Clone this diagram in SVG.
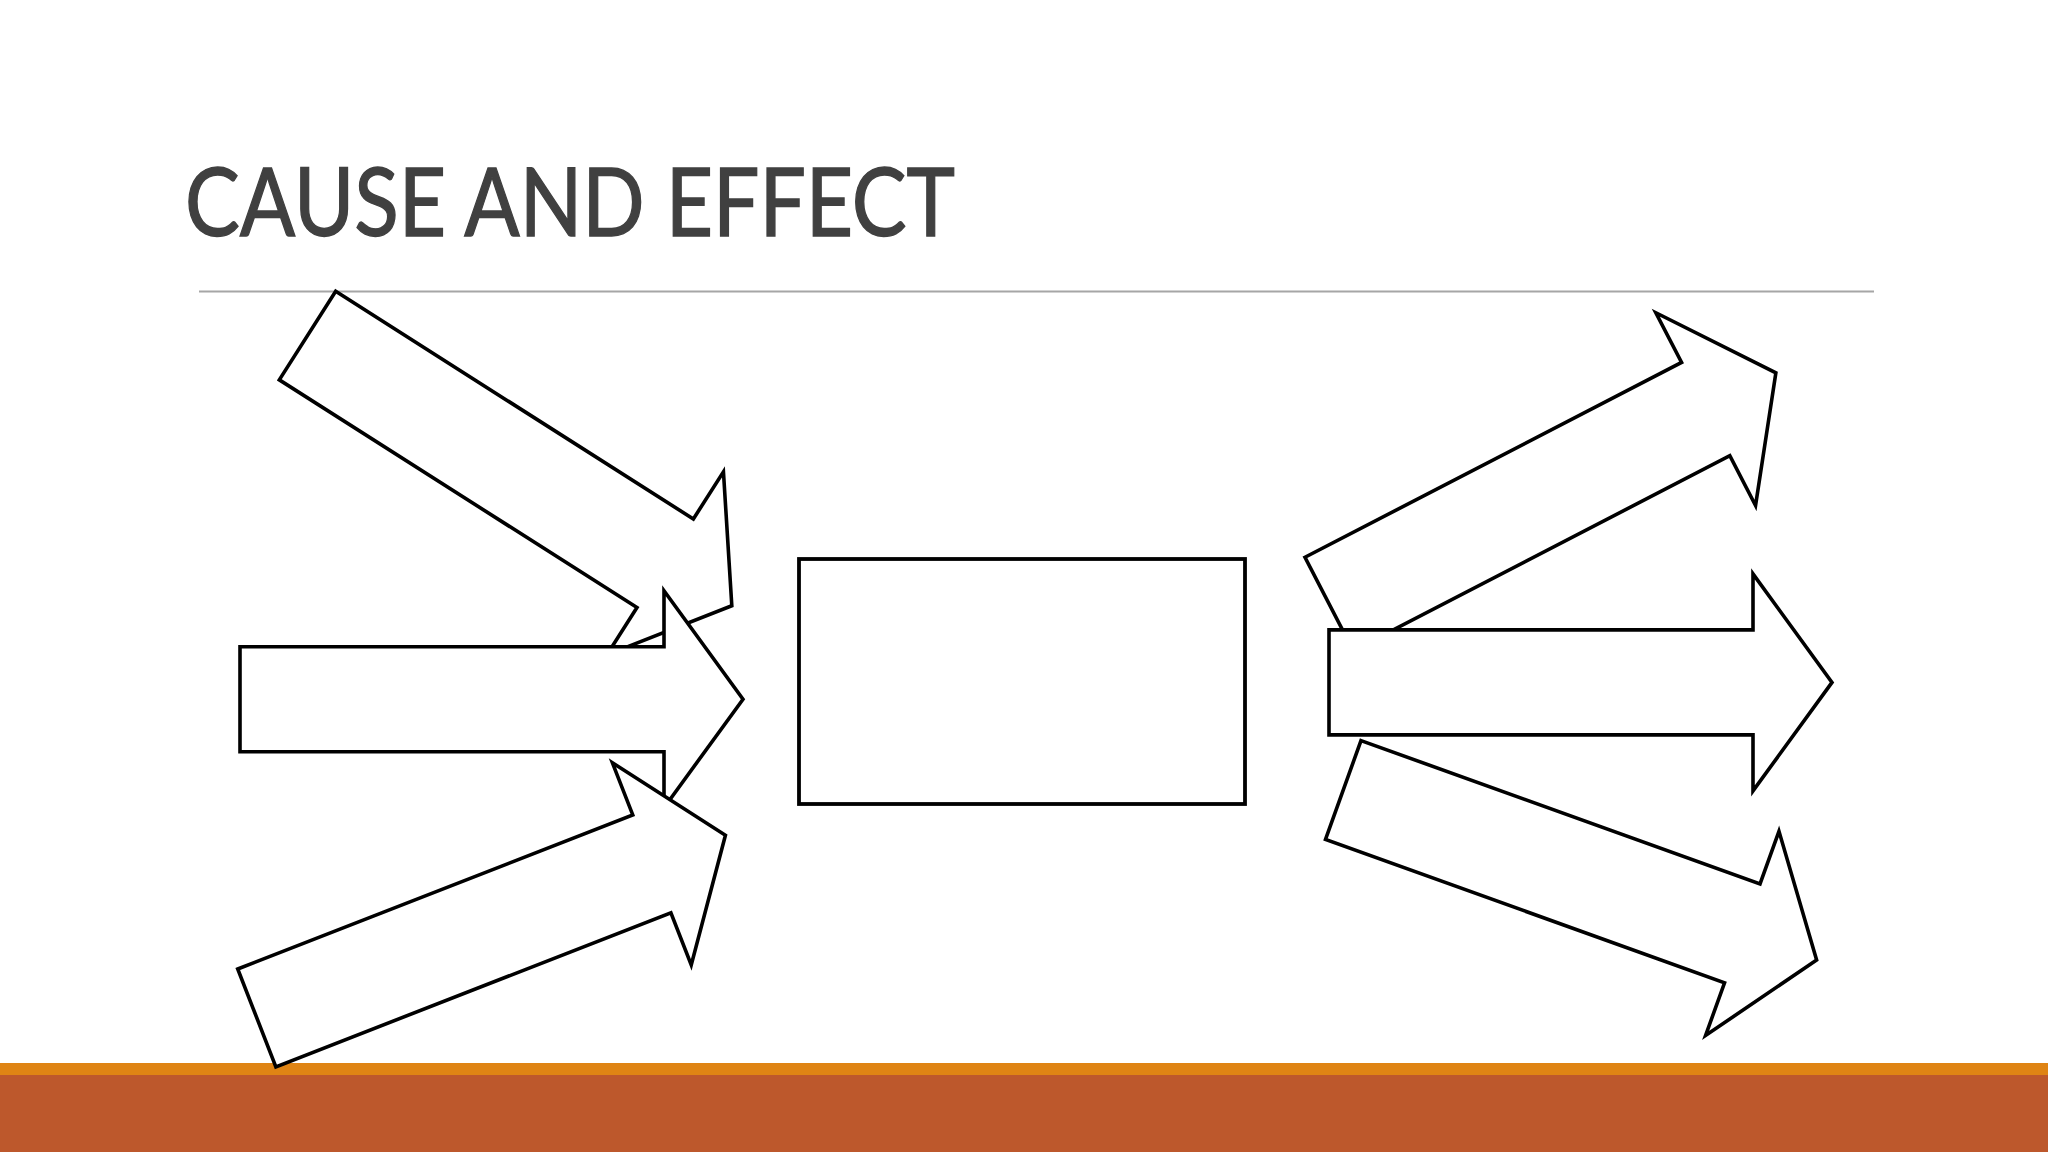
<svg xmlns="http://www.w3.org/2000/svg" xmlns:xlink="http://www.w3.org/1999/xlink" width="2048" height="1152" viewBox="0 0 2048 1152">
<style>
.bg{fill:#ffffff}
.title{font-family:Lato,"Open Sans","Liberation Sans",sans-serif;font-size:95px;fill:#404040;stroke:#404040;stroke-width:1.4}
.rule{stroke:#a6a6a6;stroke-width:2}
.arrow{fill:#ffffff;stroke:#000000;stroke-width:3.6;stroke-linejoin:miter;stroke-miterlimit:10}
.box{fill:#ffffff;stroke:#000000;stroke-width:3.8}
.band1{fill:#df8414}
.band2{fill:#bd582c}
</style>
<defs>
<path id="arrowShape" d="M0,-52.5 H424 L424,-108.5 L503,0 L424,108.5 L424,52.5 H0 Z"/>
</defs>
<rect class="bg" x="0" y="0" width="2048" height="1152"/>
<rect class="band1" x="0" y="1063" width="2048" height="12"/>
<rect class="band2" x="0" y="1075" width="2048" height="77"/>
<text class="title" x="185" y="236" textLength="770" lengthAdjust="spacingAndGlyphs">CAUSE AND EFFECT</text>
<line class="rule" x1="199" y1="291.5" x2="1874" y2="291.5"/>
<g id="cause-arrow-1"><use xlink:href="#arrowShape" class="arrow" transform="translate(307.5,335.6) rotate(32.48)"/></g>
<g id="cause-arrow-2"><use xlink:href="#arrowShape" class="arrow" transform="translate(240,699.2)"/></g>
<g id="cause-arrow-3"><use xlink:href="#arrowShape" class="arrow" transform="translate(256.8,1017.9) rotate(-21.3)"/></g>
<g id="effect-box"><rect class="box" x="799" y="559" width="446" height="245"/></g>
<g id="effect-arrow-1"><use xlink:href="#arrowShape" class="arrow" transform="translate(1329.1,603.9) rotate(-27.35)"/></g>
<g id="effect-arrow-2"><use xlink:href="#arrowShape" class="arrow" transform="translate(1329,682.4)"/></g>
<g id="effect-arrow-3"><use xlink:href="#arrowShape" class="arrow" transform="translate(1343.25,790) rotate(19.76)"/></g>
<g id="connectors"></g>
</svg>
